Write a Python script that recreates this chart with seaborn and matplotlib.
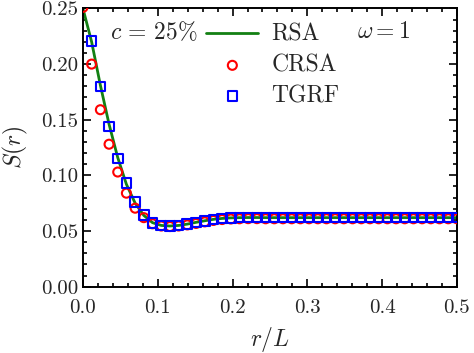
import matplotlib
matplotlib.use("Agg")
import matplotlib.pyplot as plt
import seaborn as sns
import pandas as pd
from matplotlib.ticker import MultipleLocator, FormatStrFormatter

# r/L grid (step 0.5/43)
r = [0.0, 0.0116, 0.0233, 0.0349, 0.0465, 0.0581, 0.0698, 0.0814, 0.0930, 0.1047,
     0.1163, 0.1279, 0.1395, 0.1512, 0.1628, 0.1744, 0.1860, 0.1977, 0.2093, 0.2209,
     0.2326, 0.2442, 0.2558, 0.2674, 0.2791, 0.2907, 0.3023, 0.3140, 0.3256, 0.3372,
     0.3488, 0.3605, 0.3721, 0.3837, 0.3953, 0.4070, 0.4186, 0.4302, 0.4419, 0.4535,
     0.4651, 0.4767, 0.4884, 0.5000]

rsa = [0.250, 0.220, 0.181, 0.146, 0.116, 0.092, 0.075, 0.0640, 0.0575, 0.0550,
       0.0545, 0.0550, 0.0562, 0.0578, 0.0592, 0.0605, 0.0613, 0.0618, 0.0620, 0.0621,
       0.0621, 0.0620, 0.0620, 0.0620, 0.0620, 0.0620, 0.0620, 0.0620, 0.0620, 0.0620,
       0.0620, 0.0620, 0.0620, 0.0620, 0.0620, 0.0620, 0.0620, 0.0620, 0.0620, 0.0620,
       0.0620, 0.0620, 0.0620, 0.0620]

crsa = [0.251, 0.200, 0.159, 0.128, 0.103, 0.084, 0.0705, 0.0620, 0.0565, 0.0545,
        0.0540, 0.0545, 0.0555, 0.0568, 0.0582, 0.0595, 0.0603, 0.0608, 0.0610, 0.0611,
        0.0611, 0.0610, 0.0610, 0.0610, 0.0610, 0.0610, 0.0610, 0.0610, 0.0610, 0.0610,
        0.0610, 0.0610, 0.0610, 0.0610, 0.0610, 0.0610, 0.0610, 0.0610, 0.0610, 0.0610,
        0.0610, 0.0610, 0.0610, 0.0610]

tgrf = [0.262, 0.221, 0.180, 0.144, 0.115, 0.093, 0.076, 0.0645, 0.0570, 0.0550,
        0.0545, 0.0550, 0.0562, 0.0578, 0.0592, 0.0605, 0.0613, 0.0618, 0.0620, 0.0621,
        0.0621, 0.0620, 0.0620, 0.0620, 0.0620, 0.0620, 0.0620, 0.0620, 0.0620, 0.0620,
        0.0620, 0.0620, 0.0620, 0.0620, 0.0620, 0.0620, 0.0620, 0.0620, 0.0620, 0.0620,
        0.0620, 0.0620, 0.0620, 0.0620]

df = pd.DataFrame({"r": r, "RSA": rsa, "CRSA": crsa, "TGRF": tgrf})

sns.set_style("ticks")
plt.rcParams["font.family"] = "serif"
plt.rcParams["font.serif"] = ["cmr10", "DejaVu Serif"]
plt.rcParams["mathtext.fontset"] = "cm"
plt.rcParams["axes.formatter.use_mathtext"] = True
plt.rcParams["axes.unicode_minus"] = False

fig = plt.figure(figsize=(4.74, 3.53), dpi=100)
ax = fig.add_axes([0.175, 0.188, 0.789, 0.788])

sns.lineplot(data=df, x="r", y="RSA", ax=ax, color="#138013", linewidth=2,
             label="RSA", zorder=2)
sns.scatterplot(data=df, x="r", y="CRSA", ax=ax, marker="o", s=42,
                facecolors="none", edgecolor="red", linewidth=1.5,
                label="CRSA", zorder=3)
sns.scatterplot(data=df, x="r", y="TGRF", ax=ax, marker="s", s=48,
                facecolors="none", edgecolor="blue", linewidth=1.5,
                label="TGRF", zorder=4)

ax.set_xlim(0, 0.5)
ax.set_ylim(0, 0.25)
ax.xaxis.set_major_locator(MultipleLocator(0.1))
ax.xaxis.set_minor_locator(MultipleLocator(0.02))
ax.yaxis.set_major_locator(MultipleLocator(0.05))
ax.yaxis.set_minor_locator(MultipleLocator(0.01))
ax.xaxis.set_major_formatter(FormatStrFormatter("%.1f"))
ax.yaxis.set_major_formatter(FormatStrFormatter("%.2f"))
ax.tick_params(which="both", direction="in", top=True, right=True,
               labelsize=15, width=1.2, color="black")
ax.tick_params(which="major", length=6)
ax.tick_params(which="minor", length=3)
ax.tick_params(axis="x", which="major", pad=9)
for sp in ax.spines.values():
    sp.set_linewidth(1.4)
    sp.set_color("black")

ax.set_xlabel(r"$r/L$", fontsize=17, labelpad=6)
ax.set_ylabel(r"$S(r)$", fontsize=17, labelpad=8)

ax.text(0.036, 0.229, r"$c\,=\,25\%$", fontsize=17, va="center")
ax.text(0.366, 0.229, r"$\omega=1$", fontsize=17, va="center")

ax.legend(loc="upper left", bbox_to_anchor=(0.33, 0.945), frameon=False,
          fontsize=17, handlelength=2.2, handletextpad=0.55, labelspacing=0.36,
          borderaxespad=0, borderpad=0)

fig.savefig("out.png", dpi=100)
